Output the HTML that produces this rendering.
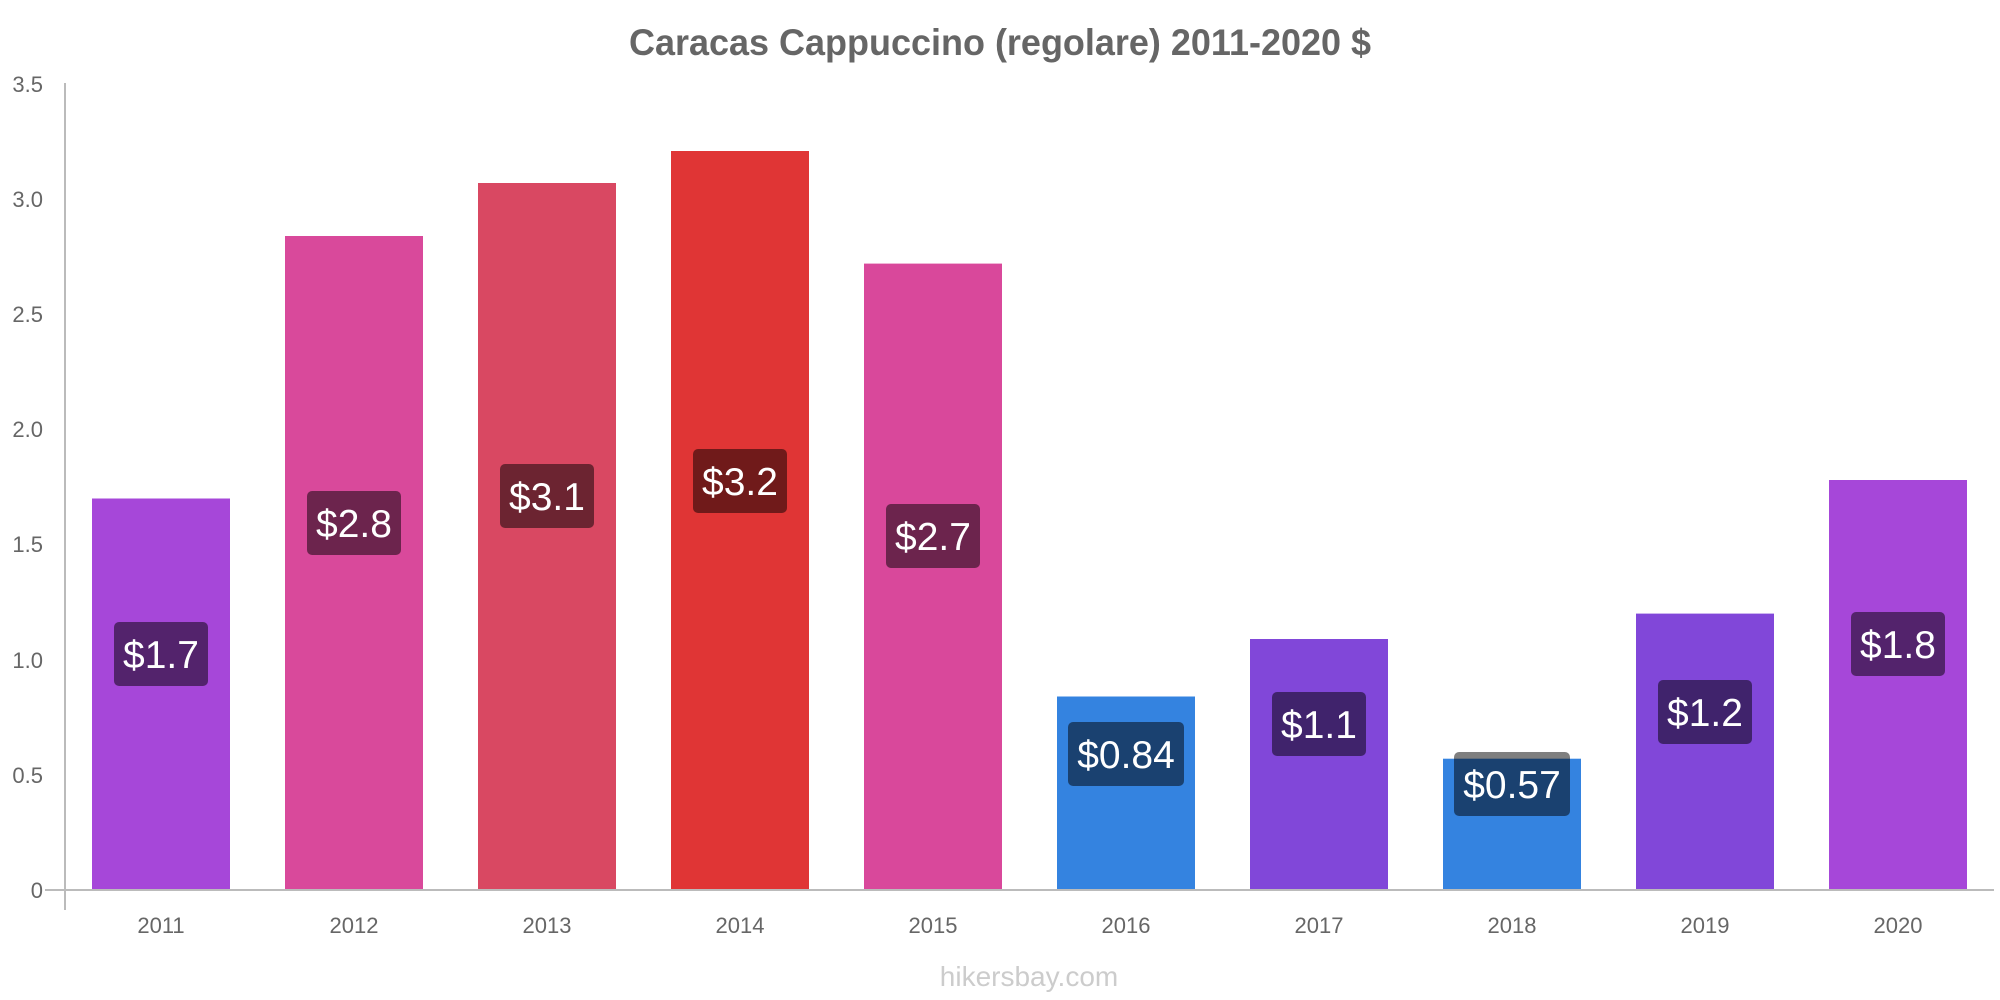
<!DOCTYPE html>
<html><head><meta charset="utf-8"><style>
html,body{margin:0;padding:0;background:#fff;}
svg{display:block;font-family:"Liberation Sans",sans-serif;}
</style></head><body>
<svg width="2000" height="1000" viewBox="0 0 2000 1000" xmlns="http://www.w3.org/2000/svg">
<text x="1000" y="55" text-anchor="middle" font-size="37" font-weight="bold" fill="#666" textLength="742" lengthAdjust="spacingAndGlyphs">Caracas Cappuccino (regolare) 2011-2020 $</text>
<g fill="#666" font-size="22" text-anchor="end">
<text x="43" y="92">3.5</text>
<text x="43" y="207">3.0</text>
<text x="43" y="322">2.5</text>
<text x="43" y="437">2.0</text>
<text x="43" y="552">1.5</text>
<text x="43" y="668">1.0</text>
<text x="43" y="783">0.5</text>
<text x="43" y="898">0</text>
</g>
<g>
<rect x="92" y="498.5" width="138" height="391.5" fill="#a647d9"/>
<rect x="285" y="236" width="138" height="654" fill="#d9499b"/>
<rect x="478" y="183" width="138" height="707" fill="#d94862"/>
<rect x="671" y="151" width="138" height="739" fill="#e03535"/>
<rect x="864" y="263.6" width="138" height="626.4" fill="#d9489b"/>
<rect x="1057" y="696.5" width="138" height="193.5" fill="#3483e0"/>
<rect x="1250" y="639" width="138" height="251" fill="#8147d9"/>
<rect x="1443" y="758.7" width="138" height="131.3" fill="#3483e0"/>
<rect x="1636" y="613.6" width="138" height="276.4" fill="#8147d9"/>
<rect x="1829" y="480" width="138" height="410" fill="#a647d9"/>
</g>
<line x1="65" y1="83" x2="65" y2="910" stroke="#bbb" stroke-width="2"/>
<line x1="45" y1="890" x2="1994" y2="890" stroke="#bbb" stroke-width="2"/>
<g fill="#666" font-size="22" text-anchor="middle">
<text x="161" y="933">2011</text><text x="354" y="933">2012</text><text x="547" y="933">2013</text>
<text x="740" y="933">2014</text><text x="933" y="933">2015</text><text x="1126" y="933">2016</text>
<text x="1319" y="933">2017</text><text x="1512" y="933">2018</text><text x="1705" y="933">2019</text>
<text x="1898" y="933">2020</text>
</g>
<g fill="rgba(0,0,0,0.5)">
<rect x="114" y="622" width="94" height="64" rx="5"/>
<rect x="307" y="491" width="94" height="64" rx="5"/>
<rect x="500" y="464" width="94" height="64" rx="5"/>
<rect x="693" y="449" width="94" height="64" rx="5"/>
<rect x="886" y="504" width="94" height="64" rx="5"/>
<rect x="1068" y="722" width="116" height="64" rx="5"/>
<rect x="1272" y="692" width="94" height="64" rx="5"/>
<rect x="1454" y="752" width="116" height="64" rx="5"/>
<rect x="1658" y="680" width="94" height="64" rx="5"/>
<rect x="1851" y="612" width="94" height="64" rx="5"/>
</g>
<g fill="#fff" font-size="39" text-anchor="middle">
<text x="161" y="668">$1.7</text>
<text x="354" y="537">$2.8</text>
<text x="547" y="510">$3.1</text>
<text x="740" y="495">$3.2</text>
<text x="933" y="550">$2.7</text>
<text x="1126" y="768">$0.84</text>
<text x="1319" y="738">$1.1</text>
<text x="1512" y="798">$0.57</text>
<text x="1705" y="726">$1.2</text>
<text x="1898" y="658">$1.8</text>
</g>
<text x="1029" y="986" text-anchor="middle" font-size="28" fill="#ccc">hikersbay.com</text>
</svg>
</body></html>
